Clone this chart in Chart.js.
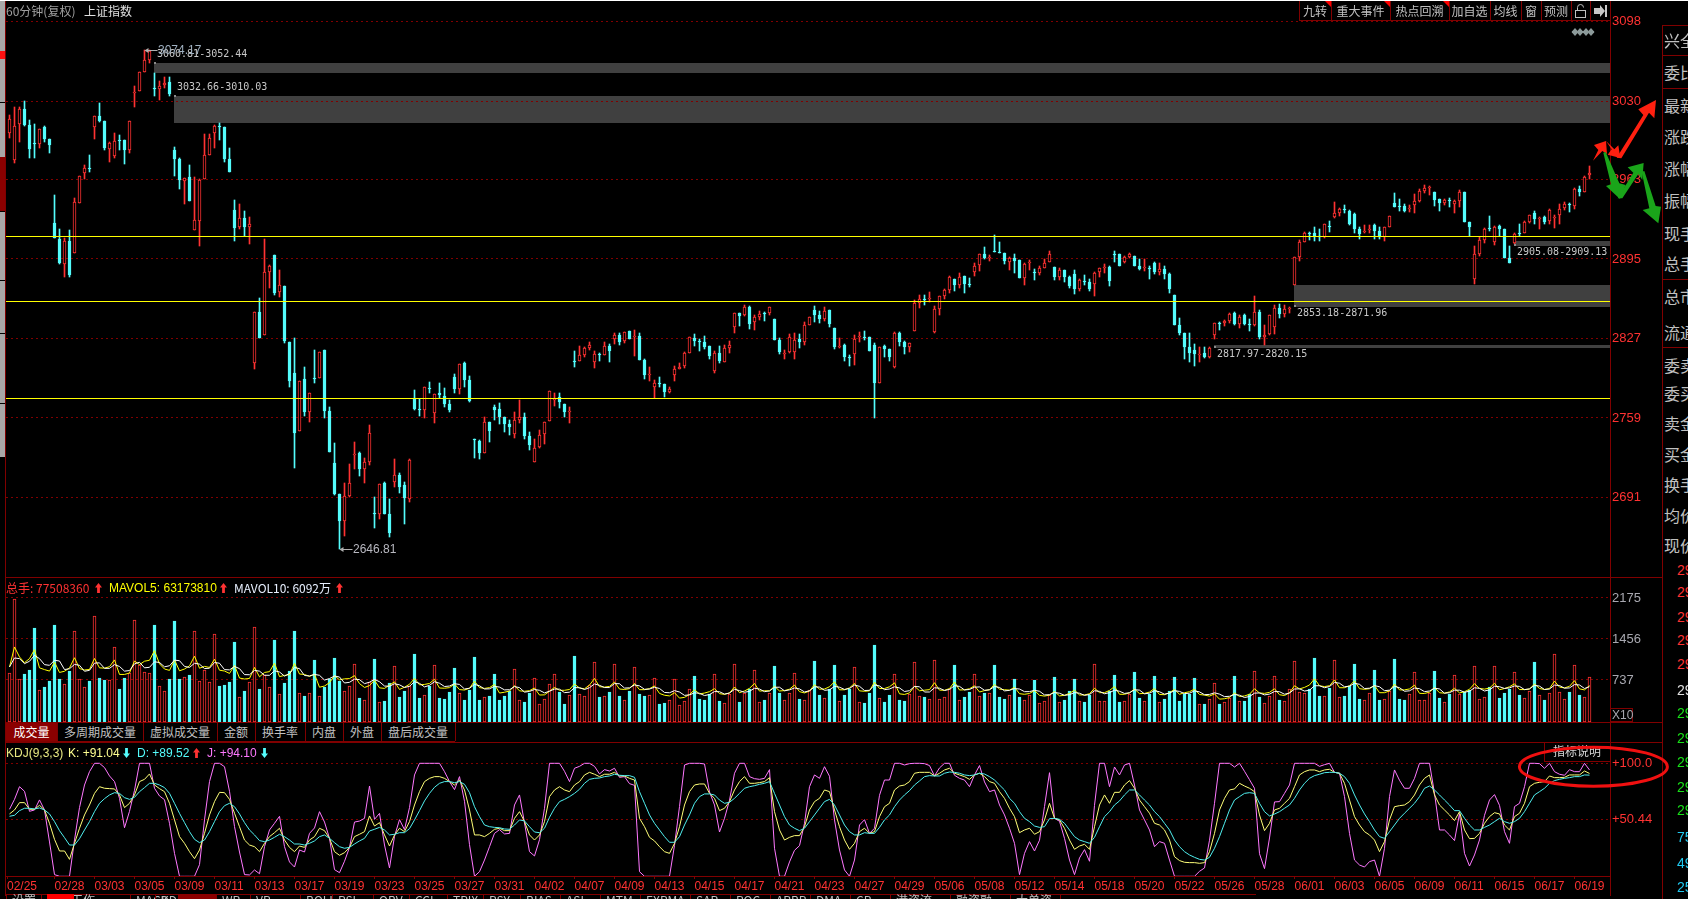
<!DOCTYPE html>
<html lang="zh"><head><meta charset="utf-8"><title>上证指数 60分钟</title>
<script src="https://cdn.jsdelivr.net/npm/chart.js@4"></script>
<style>
html,body{margin:0;padding:0;background:#000;width:1688px;height:899px;overflow:hidden}
canvas{position:absolute;left:0}
.t{position:absolute;white-space:nowrap;font:13px "Liberation Sans","Noto Sans CJK SC",sans-serif;line-height:16px;transform:translateY(-50%)}
</style></head><body>
<canvas id="cMain" width="1662" height="576" style="top:1px;width:1662px;height:576px"></canvas>
<canvas id="cVol" width="1662" height="145" style="top:577px;width:1662px;height:145px"></canvas>
<canvas id="cKdj" width="1662" height="154" style="top:742px;width:1662px;height:154px"></canvas>
<div id="ui"></div>
<svg width="1688" height="899" style="position:absolute;left:0;top:0;pointer-events:none;z-index:5">
<g transform="translate(1585,90) scale(.3333)">
<g fill="#ff2010">
<polygon points="24,212 40,180 27,165 63,153 66,192 52,183"/>
<polygon points="63,153 88,178 100,166 106,204 68,194 80,178"/>
<polygon points="95,203 175,75 160,58 213,30 208,85 192,68 109,205"/>
</g>
<g fill="#1aa51a">
<polygon points="55,188 62,186 103,280 122,285 105,327 63,288 78,283"/>
<polygon points="98,325 145,248 128,232 176,219 172,270 160,252 112,325"/>
<polygon points="170,245 178,243 212,348 228,350 220,400 173,360 193,355"/>
</g>
</g>
<ellipse cx="1593.4" cy="766.7" rx="74" ry="19.5" fill="none" stroke="#f01010" stroke-width="3"/>
</svg>
<script>
/* ---------- candlesticks (60-minute bars) ---------- */
const opens=[3003.1,2979.7,3010.2,3023.3,3009.7,2994.0,2993.4,3008.2,2997.4,2925.8,
2912.1,2890.7,2910.4,2900.4,2943.2,2968.9,2972.9,3008.2,3017.0,3013.1,
2989.4,2983.1,2997.0,2996.8,2988.3,3037.3,3039.0,3055.3,3065.3,3041.3,
3040.4,3044.2,3046.4,2988.3,2980.6,2962.0,2965.2,2919.8,2927.8,2963.4,
2983.7,3002.8,3008.9,3007.9,2980.6,2936.9,2922.7,2930.1,2922.7,2805.7,
2849.4,2830.2,2884.1,2898.4,2867.0,2871.9,2823.7,2797.4,2748.0,2792.3,
2764.3,2793.2,2793.4,2817.1,2764.9,2720.4,2693.9,2671.0,2692.4,2727.7,
2729.0,2715.3,2721.5,2677.6,2676.8,2703.3,2676.8,2704.4,2710.1,2701.6,
2689.9,2775.8,2766.8,2766.0,2784.2,2763.4,2780.0,2777.5,2770.9,2793.7,
2783.5,2806.0,2791.4,2740.7,2739.0,2729.2,2755.5,2768.3,2766.6,2759.8,
2753.8,2745.0,2757.2,2759.8,2743.5,2721.5,2734.4,2745.0,2756.4,2775.2,
2776.6,
2770.9,2764.7,2807.3,2807.7,2812.8,2818.8,2806.8,2813.6,2812.8,2820.5,
2826.5,2829.9,2824.8,2833.4,2828.9,2829.1,2808.5,2796.4,2785.4,2788.8,
2788.0,2780.9,2795.7,2800.9,2803.4,2814.8,2827.4,2824.9,2823.7,2820.5,
2798.9,2814.5,2807.1,2818.8,2837.0,2848.8,2847.0,2853.9,2841.1,2845.3,
2848.9,2848.8,2843.4,2825.7,2814.5,2815.4,2815.4,2826.3,2824.2,2838.2,
2851.3,2846.8,2843.6,2851.3,2835.9,2820.3,2821.4,2810.8,2813.7,2828.3,
2828.5,2828.2,2821.4,2788.9,2820.5,2818.0,2802.6,2831.6,2824.0,2819.7,
2833.3,2857.3,2860.9,2860.8,2832.5,2852.2,2863.3,2868.4,2877.9,2872.7,
2880.4,2873.5,2883.8,2889.8,2899.0,2896.5,2902.0,2901.2,2900.1,2892.4,
2895.8,2894.1,2878.7,2891.9,2884.1,2883.0,2887.3,2892.4,2888.1,2879.6,
2885.6,2879.6,2882.1,2869.3,2876.3,2875.3,2873.6,2883.8,2887.9,2888.1,
2899.5,2899.3,2892.1,2897.0,2897.5,2889.2,2887.3,2886.9,2891.3,2883.6,
2886.7,2882.1,2864.2,2838.8,2831.6,2819.4,2817.1,2813.5,2814.8,2811.4,
2829.7,2840.1,2839.9,2842.2,2848.8,2839.4,2846.8,2839.6,2838.5,2849.6,
2828.5,2830.5,2837.0,2852.8,2847.9,2852.8,2872.7,2896.7,2909.8,2917.4,
2917.0,2914.3,2913.5,2923.4,2931.2,2934.1,2937.7,2936.3,2933.5,2920.4,
2918.9,2920.1,2924.1,2919.2,2913.5,2922.6,2942.6,2940.5,2940.3,2938.2,
2941.2,2944.3,2953.2,2956.2,2952.3,2946.1,2942.7,2945.7,2941.8,2944.6,
2952.3,2926.6,2878.1,2899.3,2911.2,2921.3,2909.8,2923.0,2920.6,2895.6,
2908.4,2917.0,2917.5,2926.4,2934.1,2929.5,2930.7,2927.2,2930.9,2932.9,
2938.4,2942.2,2940.3,2954.9,2952.6,2966.6];
const closes=[3014.5,3008.8,3023.1,3009.7,2989.1,2993.6,3005.9,2997.7,2992.5,2913.2,
2891.3,2910.4,2881.3,2943.5,2966.3,2973.1,2972.4,3017.0,3013.1,2989.7,
2994.2,2996.0,2996.4,2988.3,3013.1,3037.9,3055.0,3065.3,3073.0,3041.0,
3042.7,3045.3,3035.9,2980.6,2962.6,2964.0,2944.6,2928.4,2962.6,2983.7,
2998.8,3008.8,3008.5,2980.3,2969.4,2921.5,2930.1,2922.1,2924.7,2849.4,
2827.6,2883.6,2889.0,2865.6,2872.7,2824.8,2790.6,2746.3,2790.6,2764.3,
2780.0,2792.8,2815.4,2765.2,2730.1,2693.9,2671.0,2692.2,2703.0,2728.1,
2715.3,2721.0,2745.8,2677.2,2702.2,2676.8,2660.8,2710.1,2700.1,2690.7,
2723.0,2766.6,2766.4,2785.2,2783.8,2779.2,2778.5,2771.2,2765.8,2783.7,
2804.9,2791.7,2773.7,2740.2,2729.2,2755.5,2748.1,2766.0,2759.8,2754.0,
2751.5,2757.2,2759.5,2743.8,2736.1,2733.0,2744.1,2755.2,2781.8,2775.6,
2772.6,
2764.0,2765.1,2807.0,2812.6,2818.8,2821.4,2813.7,2813.2,2820.3,2816.2,
2829.7,2823.7,2832.2,2826.3,2829.3,2808.5,2795.7,2796.9,2788.9,2788.4,
2781.2,2783.5,2800.6,2802.3,2814.5,2828.0,2824.8,2824.5,2819.9,2811.9,
2814.5,2807.4,2818.8,2821.4,2848.5,2846.5,2853.6,2839.4,2845.3,2847.7,
2848.5,2853.6,2825.7,2815.1,2814.9,2828.0,2825.7,2824.0,2838.2,2845.1,
2847.0,2843.6,2850.5,2839.4,2819.7,2820.7,2811.1,2810.4,2826.5,2828.7,
2828.0,2815.9,2788.9,2819.7,2818.0,2811.1,2831.6,2824.0,2819.7,2822.8,
2857.3,2860.7,2860.5,2861.2,2852.2,2863.0,2868.4,2879.3,2872.7,2879.3,
2873.6,2873.1,2889.0,2899.0,2895.8,2896.9,2901.4,2900.6,2893.3,2895.8,
2893.3,2878.7,2890.7,2892.3,2883.7,2887.3,2891.3,2899.3,2879.6,2885.6,
2879.6,2871.9,2869.3,2877.0,2875.9,2869.3,2883.0,2887.0,2888.3,2876.2,
2899.1,2889.0,2896.4,2899.5,2889.2,2886.2,2887.7,2886.5,2883.6,2886.7,
2882.1,2869.3,2838.8,2831.9,2819.4,2814.8,2813.7,2813.9,2810.9,2818.8,
2839.9,2839.7,2842.2,2848.2,2839.4,2845.6,2839.4,2839.2,2849.6,2828.0,
2829.9,2847.0,2853.3,2847.9,2852.2,2853.2,2896.7,2909.3,2917.2,2917.0,
2914.1,2913.9,2924.9,2923.0,2934.1,2937.5,2937.3,2924.9,2920.4,2916.4,
2919.3,2920.5,2918.9,2913.5,2922.1,2931.8,2939.7,2940.0,2936.3,2938.6,
2944.3,2953.4,2955.5,2956.6,2945.5,2943.2,2945.5,2945.3,2944.3,2952.6,
2926.6,2922.4,2899.0,2911.2,2920.6,2921.0,2922.6,2920.6,2895.6,2891.8,
2916.4,2916.6,2926.4,2932.4,2929.5,2929.9,2926.9,2936.9,2931.3,2937.5,
2941.8,2941.8,2954.9,2952.1,2965.4,2968.3];
const highs=[3018.2,3024.8,3024.8,3030.2,3013.9,3010.5,3005.9,3008.8,2997.4,2949.8,
2920.7,2912.7,2919.8,2946.9,2966.3,2975.4,2984.0,3017.3,3028.5,3013.1,
2995.4,3002.5,3001.1,2996.8,3013.1,3043.0,3055.3,3074.17,3073.5,3054.4,
3047.3,3050.4,3050.4,2990.8,2981.1,2964.0,2975.4,2965.2,2963.2,3001.7,
3001.7,3009.6,3011.1,3008.2,2989.7,2945.5,2942.1,2936.1,2930.9,2849.4,
2861.6,2912.1,2889.8,2898.4,2885.6,2871.9,2823.7,2827.4,2790.6,2802.6,
2780.0,2817.1,2815.4,2817.1,2768.1,2737.5,2693.9,2703.6,2719.6,2738.1,
2729.6,2724.7,2752.7,2691.3,2702.2,2704.1,2689.6,2723.8,2711.9,2703.9,
2723.6,2782.9,2775.2,2785.4,2789.7,2779.5,2788.9,2784.6,2774.3,2796.6,
2804.9,2806.8,2794.6,2740.7,2740.1,2759.5,2755.5,2770.0,2771.5,2759.8,
2756.9,2764.1,2774.3,2762.9,2746.9,2741.2,2748.6,2755.5,2781.8,2780.6,
2780.6,
2770.9,2768.6,2816.2,2820.5,2819.9,2823.7,2816.0,2814.5,2823.7,2822.0,
2831.4,2831.4,2832.5,2833.4,2834.2,2831.6,2809.1,2802.6,2791.4,2794.0,
2788.0,2785.2,2803.2,2806.0,2815.4,2828.0,2830.8,2826.8,2829.1,2820.5,
2816.2,2820.5,2821.1,2824.8,2848.8,2848.8,2855.3,2854.5,2846.8,2850.5,
2849.6,2853.6,2843.4,2827.1,2817.1,2830.5,2831.4,2830.5,2841.1,2845.1,
2854.5,2850.7,2853.6,2851.3,2835.9,2827.1,2822.2,2812.8,2830.0,2832.5,
2833.4,2828.2,2822.8,2819.7,2821.4,2818.0,2832.2,2832.5,2824.8,2823.1,
2859.9,2864.2,2864.2,2866.7,2854.8,2863.0,2869.6,2880.2,2877.9,2883.0,
2880.4,2878.5,2891.3,2899.0,2905.2,2898.4,2915.5,2909.5,2900.1,2896.4,
2899.3,2894.1,2891.3,2894.1,2886.4,2888.7,2894.7,2901.8,2888.1,2887.3,
2885.6,2880.2,2885.6,2877.9,2881.3,2877.9,2883.8,2887.3,2890.4,2889.0,
2901.8,2899.3,2897.5,2899.9,2897.5,2894.7,2894.7,2889.2,2892.4,2891.8,
2889.2,2882.7,2864.2,2844.8,2831.9,2831.4,2822.0,2819.4,2819.4,2819.4,
2840.5,2841.3,2842.8,2849.0,2849.6,2847.3,2847.9,2843.4,2863.3,2851.3,
2838.5,2847.0,2855.6,2856.5,2855.6,2854.2,2896.7,2911.2,2918.1,2918.3,
2922.1,2920.4,2924.9,2927.7,2943.7,2938.3,2941.2,2936.9,2934.6,2922.1,
2924.1,2924.1,2924.9,2922.1,2922.6,2931.8,2951.7,2946.3,2942.0,2941.2,
2950.6,2954.9,2958.0,2957.4,2952.3,2946.3,2946.3,2946.9,2945.5,2954.0,
2952.3,2926.6,2906.1,2913.5,2921.5,2931.8,2923.2,2923.8,2920.6,2906.1,
2917.5,2924.9,2927.7,2932.6,2935.8,2931.2,2931.8,2937.5,2932.6,2942.0,
2944.0,2942.6,2955.5,2957.4,2966.0,2974.5];
const lows=[2998.2,2976.9,2995.4,3008.8,2981.7,2981.7,2990.3,2995.4,2986.0,2912.7,
2890.7,2879.9,2879.9,2900.4,2943.2,2963.4,2969.7,2997.7,3012.5,2988.3,
2978.3,2981.7,2988.3,2976.3,2986.0,3025.3,3039.0,3055.3,3063.0,3034.5,
3031.3,3041.0,3034.7,2966.3,2955.2,2942.1,2944.6,2919.8,2906.4,2963.4,
2983.7,2990.3,2996.8,2978.0,2969.4,2910.7,2920.9,2914.7,2907.8,2800.8,
2827.6,2830.2,2870.2,2864.4,2862.7,2823.4,2785.7,2716.4,2748.0,2760.9,
2755.8,2789.1,2793.4,2759.2,2730.1,2693.0,2646.81,2658.2,2691.0,2715.3,
2709.5,2703.6,2718.7,2665.0,2672.7,2676.8,2657.4,2700.1,2695.0,2668.5,
2687.3,2765.8,2760.9,2759.2,2780.6,2754.9,2776.3,2768.6,2764.3,2780.0,
2779.5,2785.2,2772.9,2725.0,2723.8,2729.2,2738.6,2757.2,2753.8,2746.9,
2744.6,2742.1,2754.5,2741.2,2731.5,2721.0,2733.5,2736.7,2756.4,2769.2,
2767.7,
2759.8,2754.9,2802.8,2807.4,2810.9,2817.1,2802.0,2807.7,2812.8,2806.8,
2822.2,2821.4,2823.1,2826.3,2812.0,2808.5,2792.3,2790.6,2775.8,2785.4,
2777.1,2780.0,2790.6,2800.9,2801.4,2814.8,2820.5,2816.2,2818.2,2809.4,
2797.4,2806.2,2806.8,2814.5,2831.7,2837.6,2846.2,2835.3,2834.2,2842.8,
2841.9,2847.0,2825.7,2813.9,2809.4,2814.8,2809.4,2818.8,2821.6,2838.2,
2841.1,2840.2,2842.2,2836.8,2818.0,2818.8,2807.7,2803.4,2804.3,2824.0,
2825.7,2815.9,2758.9,2788.9,2811.1,2807.4,2802.0,2820.5,2813.7,2815.4,
2833.3,2853.0,2855.6,2858.2,2831.7,2847.0,2860.7,2865.9,2867.6,2870.2,
2865.9,2871.0,2880.4,2884.7,2895.0,2893.3,2901.0,2900.1,2890.7,2885.6,
2883.0,2878.7,2872.7,2885.6,2877.0,2881.3,2887.3,2892.4,2877.0,2877.0,
2875.3,2870.2,2865.0,2867.6,2872.7,2867.6,2863.3,2879.6,2883.0,2871.9,
2892.4,2889.0,2891.3,2895.6,2889.2,2885.6,2885.0,2877.6,2882.1,2881.5,
2878.1,2865.6,2838.8,2829.7,2809.6,2806.6,2803.7,2806.6,2810.5,2810.5,
2826.5,2834.2,2837.6,2839.9,2838.5,2835.7,2838.5,2833.4,2837.6,2826.5,
2821.4,2829.9,2830.5,2844.5,2845.1,2849.0,2872.7,2893.5,2909.8,2911.2,
2910.6,2910.6,2912.7,2918.3,2929.8,2931.8,2934.6,2924.1,2917.5,2912.3,
2917.5,2917.0,2912.3,2912.3,2910.6,2922.6,2939.2,2936.3,2935.2,2935.2,
2934.1,2944.0,2951.7,2949.7,2940.6,2936.0,2941.2,2939.7,2934.1,2939.7,
2926.6,2914.6,2873.6,2897.8,2908.4,2919.2,2906.9,2914.7,2895.6,2891.8,
2907.8,2914.6,2917.0,2926.0,2924.9,2920.4,2924.9,2924.9,2921.9,2924.9,
2936.9,2935.5,2937.8,2949.1,2952.3,2963.2];
/* ---------- volume (axis units, x10) ---------- */
const volumes=[866,2165,761,848,918,1656,567,608,714,1708,749,673,901,1603,761,620,725,1860,778,743,
743,1322,585,778,866,1796,1006,883,866,1708,638,550,761,1778,761,796,831,1603,725,918,
708,1550,638,655,708,1410,445,550,708,1673,585,831,620,1445,497,690,901,1603,515,462,
515,1094,462,620,761,1129,725,550,638,1024,427,392,708,1112,357,374,690,989,445,550,
638,1199,427,480,638,1006,427,410,532,954,515,392,567,1147,392,445,462,848,392,462,
550,936,392,357,515,778,322,410,673,848,527,
322,480,1152,497,462,644,1059,433,462,521,1024,450,392,538,971,486,450,480,778,310,
328,392,761,304,374,585,801,398,380,497,848,363,339,497,1024,345,515,573,918,357,
380,503,977,503,392,503,866,398,392,556,1065,468,415,585,995,363,468,585,971,345,
328,503,1346,415,345,480,848,380,363,486,1059,450,433,410,1094,410,433,585,995,380,
433,521,848,450,503,503,995,433,398,468,749,433,380,468,731,328,363,468,784,345,
380,538,749,363,345,480,1024,363,363,538,819,345,
363,491,872,415,363,486,801,345,398,538,784,363,486,486,766,310,310,398,679,310,
345,415,801,363,363,486,901,433,328,450,801,380,363,573,1065,521,515,573,1117,450,
450,591,1082,433,450,626,1012,398,380,503,907,380,398,538,1100,398,380,486,872,380,
380,503,889,415,345,486,819,486,521,556,977,398,433,608,977,415,503,585,872,468,
415,538,1047,468,380,503,1188,521,398,521,995,468,433,784];
const mavol5=[965,1316,1140,1040,1112,1270,950,919,893,1051,869,890,949,1127,937,912,922,1114,949,945,
970,1089,834,834,859,1069,1006,1066,1083,1252,1020,929,905,1087,898,929,985,1154,943,975,
957,1101,908,894,852,992,771,754,764,957,792,869,883,1031,796,817,831,1027,841,834,
799,838,610,631,690,813,739,757,761,813,673,606,638,733,599,589,648,704,571,610,
662,764,652,659,676,750,596,592,603,666,568,561,592,715,603,589,603,659,508,522,
543,638,546,539,550,596,473,476,540,606,556,
556,570,666,596,583,647,763,619,612,624,700,578,570,585,675,567,567,585,633,501,
469,458,514,419,432,483,565,492,508,532,585,497,485,509,614,514,544,591,675,542,
549,546,627,544,551,576,648,532,510,543,655,576,579,618,706,565,565,599,676,546,
539,546,699,587,587,618,687,494,483,511,627,548,558,568,689,559,556,586,703,561,
565,583,635,526,551,565,660,577,566,559,609,496,486,500,552,468,454,472,535,458,
468,503,559,475,475,495,592,515,515,554,621,486,
486,511,578,497,501,525,587,482,479,514,573,486,514,531,577,482,472,454,
493,401,408,429,510,447,457,486,583,509,502,520,583,478,464,513,636,580,607,649,
758,635,621,636,738,601,601,636,721,584,573,584,640,514,514,545,665,563,563,580,
647,503,500,524,605,513,506,528,591,510,531,574,672,588,577,594,679,566,587,618,
670,569,569,576,668,587,570,587,717,612,598,626,725,581,563,640];
const mavol10=[965,1123,1111,1024,1065,1170,1111,1006,994,1082,1070,920,934,1010,994,890,906,1032,1038,941,
941,1006,974,892,902,1020,1048,950,959,1056,1044,968,986,1085,1075,975,957,1030,1015,937,
943,1043,1031,919,914,975,936,831,829,905,892,820,819,898,877,805,850,955,936,815,
808,835,819,736,762,806,789,684,696,752,743,673,698,747,706,631,627,671,652,605,
626,706,678,615,643,706,680,622,631,671,659,579,592,659,635,579,582,626,612,563,
566,621,603,524,536,570,556,511,540,578,576,
515,523,603,601,570,602,667,643,604,604,674,671,595,599,650,634,573,578,609,588,
518,513,550,526,467,476,512,503,464,482,534,531,489,509,573,550,521,538,592,578,
532,545,609,610,547,563,597,580,527,547,616,612,556,564,625,610,571,589,647,626,
552,556,649,632,567,579,617,597,535,549,623,618,526,526,600,593,552,572,636,625,
562,570,611,615,556,565,622,606,546,555,587,578,532,533,556,539,475,479,518,505,
468,479,516,505,467,482,548,537,495,515,558,539,
501,513,566,559,494,506,549,530,488,508,549,537,498,505,546,528,479,484,
512,489,445,451,482,470,429,447,506,510,475,489,535,531,487,508,578,582,543,557,
636,636,601,622,694,680,618,629,679,661,587,593,638,618,549,559,625,602,539,547,
596,584,532,544,593,580,505,514,558,558,522,540,600,590,544,563,627,619,588,598,
632,624,568,582,643,629,570,578,647,640,593,598,656,649,588,619];
/* ---------- KDJ(9,3,3) ---------- */
const kdjK=[55.2,58.7,65.2,65.2,59.3,59.3,62.8,58.7,46.9,32.7,22.4,22.4,15,29.2,42.5,54.3,63.1,73.4,79.3,77.9,
77.6,77.3,72,60.8,64.6,72,83.8,85.8,90.6,80.8,77.6,74.9,64.6,49.9,35.1,29.2,21.8,15.6,23.3,38,
54.3,66.1,74.3,74,68.1,55.8,43.9,32.1,27.7,26.2,21.8,29.2,35.1,38.6,42.5,32.1,25.6,21.8,26.8,25.6,
32.1,35.1,42.5,40.4,33.6,21.8,18.6,20.9,25.6,35.1,37.2,39.5,53.4,44.5,47.5,36.6,26.8,36.6,42.5,39.5,
48.4,63.1,74.9,83.8,86.7,88.2,88.2,86.7,83.8,80.8,85.2,76.4,58.7,36.6,36.6,35.1,38,41.6,42.5,40.4,
40.4,51.3,57.2,48.4,36.6,32.1,36.6,48.4,70.5,76.4,79.3,
76.4,74.9,80.8,83.8,89.7,92,90.3,88.2,90.3,90.3,92,88.8,88.8,86.7,85.2,51.3,43.9,34.5,31.3,26.2,
21.8,20.3,29.2,43.9,63.1,74.9,80.8,81.7,81.7,73.4,69,58.1,60.2,66.1,76.4,83.8,88.2,82.3,82.3,82.9,
83.8,87.3,57.2,41,32.1,34.5,36,36,43.9,58.7,66.1,69,76.4,74.9,58.7,43.9,32.1,23.9,29.2,39.5,
42.5,38,39.5,52.8,61.6,64.6,76.4,79.9,80.8,83.8,91.2,92,92,92,88.8,91.2,94.1,95.6,91.2,89.7,
88.2,85.8,89.7,91.2,88.2,83.8,82.3,74.9,69,60.2,52.8,38.6,41,42.5,37.2,39.5,49.9,64.6,51.3,49.9,
42.5,32.1,23.9,26.8,28.3,23.9,43.9,63.1,72,64.6,74.3,74.3,
80.8,84.7,77.9,67.5,61.6,55.8,46.9,45.4,41,32.1,17.4,13.9,12.4,12.1,12.1,11.5,12.1,21.8,
38,58.7,69,76.4,77.3,82.3,79.9,77.9,74.9,54.3,40.4,46.9,58.7,60.2,64.6,69,79.3,89.7,92.6,94.1,
94.1,92.6,94.1,94.7,92,91.2,82.3,67.5,52.8,45.4,39.5,36.6,32.1,21.8,30.7,49.9,61.6,62.5,63.1,66.1,
72,80.8,86.7,89.7,72,63.1,58.7,54.3,49.3,57.2,41,33.3,33.6,38,46.9,52.8,56.3,55.2,45.4,41,
52.8,55.8,64.6,79.3,82.3,83.2,83.8,88.8,87.3,87.3,87.6,89.7,89.7,89.7,93.2,91.04];
const kdjD=[53.1,54,58.1,60.2,60.2,59.6,60.5,58.7,55.2,48.4,40.4,34.2,27.7,27.7,33.3,41,48.4,57.2,64.6,68.7,
72,74,73.4,69.6,68.1,69.9,74.9,78.5,82.3,82.3,80.8,78.5,73.4,64.6,55.7,47.5,39.5,32.7,29.8,32.1,
39.5,48.4,57.2,62.5,64.6,61.6,55.2,47.5,41,36.6,31.6,30.7,32.1,34.5,37.2,35.1,32.1,28.6,28.6,27.7,
29.2,31.3,35.1,36.6,33.6,29.8,26.2,24.8,25.6,28.6,31.3,33.6,40.1,41.6,43.3,41,36.6,37.2,38.6,38.6,
42.2,49.9,58.1,66.7,73.4,78.8,82.3,83.8,83.8,82.9,83.8,81.4,74,61.6,52.8,45.4,43.9,43.3,43,41.9,
41.6,45.4,49.9,49,43.9,39.2,38.6,42.5,52.2,60.2,66.1,
68.1,70.5,73.4,77,82.3,85.8,86.7,87,88.2,88.8,90.3,89.4,89.1,89.1,87.6,74.9,64.6,54.3,46.9,41,
35.1,30.1,30.1,35.1,45.4,54.3,64.6,70.5,72.9,72.9,72,67.5,64.6,65.5,69,73.4,77.9,79.3,80.2,81.4,
82.3,83.8,73.4,63.1,52.8,45.4,42.5,40.4,42.5,48.4,54.3,60.2,66.1,68.1,63.1,54.3,45.4,39.5,36.6,36.6,
38.6,38,38,43.3,49.9,54.3,61.6,67.5,72,75.8,80.8,84.4,88.2,89.1,88.8,88.8,91.2,92.3,92,91.2,
89.7,89.1,89.7,91.2,90.5,88.2,85.2,80.8,76.4,69,64.6,57.2,51.3,48.4,44.5,43.3,43.9,51,51.3,50.4,
46.9,41,35.1,32.1,30.7,29.2,34.5,43.9,52.8,57.2,63.1,66.7,
72,76.4,76.4,72,67.5,63.1,57.2,52.8,46.9,41,32.1,26.2,21.8,18.9,16.8,15,14.4,16.8,
24.8,35.1,46.9,58.7,67.5,70.5,73.4,74,73.4,64.6,57.2,53.4,55.1,57.2,60.2,63.1,69,76.4,82.3,86.7,
89.1,90.3,91.7,92,92,91.2,88.2,82.3,72,63.1,55.2,48.4,41,35.1,33.6,39.5,45.4,51.3,55.8,60.2,
64.6,70.5,77.9,79.9,76.4,72,67.5,63.1,58.1,58.1,51.3,45.4,41,41,43.3,45.4,48.4,51.3,48.4,46.9,
48.4,51.3,57.2,64.6,72,74.9,77.9,82.3,84.7,85.8,86.7,87.3,88.2,88.2,89.7,89.52];
const kdjJ=[59.3,68.1,79.3,75.2,57.5,58.7,67.6,58.7,30.4,1.5,0,0,0,32.2,60.8,80.8,92.6,100,100,96.2,
88.8,83.8,69,43,57.5,76.1,100,100,100,77.9,71.1,67.8,46.9,20.3,0,0,0,0,10.3,49.9,
83.8,100,100,97,75.2,44,21.5,1.5,1.2,5.6,2.3,26.2,41,46.9,53.1,26.2,12.7,8.2,23.3,21.5,
38,42.8,57.2,48,33.6,5.9,3.2,13.3,25.6,48,48.9,51.3,79.9,50.4,55.7,27.7,7.4,35.4,50.1,41.3,
60.8,89.7,100,100,100,100,100,92.6,83.8,76.7,88.2,66.4,28,0,4.1,14.4,26.2,38,41.3,37.5,
38,63.1,72,47.2,21.8,18,32.4,60.2,100,100,100,
92.9,83.8,95.6,97.3,100,100,97.3,90.6,94.4,93.2,95.6,87.6,88.2,82,80.5,4.1,0,0,0,0,
0,0,27.4,61.7,98.5,100,100,100,99.4,74.6,63.1,39.2,51.3,67.3,91.2,100,100,88.2,86.4,85.8,
86.7,94.4,24.8,0,0,12.7,23,27.1,46.9,79.3,89.7,86.7,97,88.5,49.9,23.3,5.6,0,14.4,45.4,
50.1,38,42.5,71.7,85.2,85.2,100,100,98.5,99.7,100,100,99.7,98,88.8,95.9,100,100,89.4,86.7,
85.2,79.3,89.7,98,83.5,74.9,76.4,63.1,54.3,42.5,29.2,1.5,20.3,30.7,22.4,31.9,61.7,91.7,51.3,48.7,
33.6,14.4,1.5,16.2,23.6,13.3,62.8,100,100,79.3,96.7,89.7,
98.5,100,80.8,58.7,49.9,41,26.2,30.7,29.2,14.4,0,0,0,0,0,4.4,7.4,31.9,
64.6,100,100,100,96.7,100,92.9,85.5,77.9,20,6.8,33.9,65.8,66.1,73.4,80.8,100,100,100,100,
100,97.3,98.8,100,92,91.2,70.5,38,14.4,10,8.2,13,14.4,0,24.8,70.5,94.1,85,77.9,77.9,
86.7,100,100,100,73.4,41,41,36.6,31.6,55.4,20.3,9.1,18.9,32.2,54,67.5,72.3,62.8,39.5,29.2,
61.7,64.6,79.3,100,100,99.7,95.6,100,92.6,90.3,89.4,94.4,92.6,92.6,100,94.10];
/* ---------- axes ---------- */
const priceTicks=[3098,3030,2963,2895,2827,2759,2691];
const volTicks=[2175,1456,737];
const kdjTicks=[100,50.44];
const kdjTickLabels=["+100.0","+50.44"];
const dateLabels=["02/25","02/28","03/03","03/05","03/09","03/11","03/13","03/17","03/19","03/23","03/25","03/27","03/31","04/02","04/07","04/09","04/13","04/15","04/17","04/21","04/23","04/27","04/29","05/06","05/08","05/12","05/14","05/18","05/20","05/22","05/26","05/28","06/01","06/03","06/05","06/09","06/11","06/15","06/17","06/19"];
const dateBarIndex=[-0.5,9,17,25,33,41,49,57,65,73,81,89,97,105,113,121,129,137,145,153,161,169,177,185,193,201,209,217,225,233,241,249,257,265,273,281,289,297,305,313];
const levelLines=[2914.4,2858.8,2775.8];
/* ---------- price gaps (start bar, band edges, label) ---------- */
const gapStart=[29,33,257,241,301];
const gapUpper=[3062.7,3034.4,2872.7,2821.4,2910.4];
const gapLower=[3054.1,3011.3,2854.2,2818.8,2906.1];
const gapLabels=["3060.81-3052.44","3032.66-3010.03","2853.18-2871.96","2817.97-2820.15","2905.08-2909.13"];
const gapLabelBelow=[false,false,true,true,true];
const extremeBars=[27,66];
const extremeValues=[3074.17,2646.81];
const extremeLabels=["3074.17","2646.81"];

const RED='#ff3232',CYAN='#54fcfc',DARK='#800000',GRAY='#a8a8b0',BAND='#404040';
const FONT='"Liberation Sans",sans-serif';
const pts=a=>a.map((v,i)=>({x:i,y:v}));
const isUp=i=>closes[i]>=opens[i];

const crisp={id:'crisp',afterDatasetsUpdate(ch){
  ch.data.datasets.forEach((d,k)=>{ if(d.type!=='bar')return;
    ch.getDatasetMeta(k).data.forEach(el=>{
      let a=Math.round(el.y),b=Math.round(el.base);
      if(a===b)b=a+1;
      el.y=a;el.base=b;el.x=Math.floor(el.x)+.5;
    });
  });
}};
const gaps={id:'gaps',beforeDraw(ch){
  const {ctx,chartArea:A,scales:{x,y}}=ch;
  ctx.save();ctx.fillStyle=BAND;
  gapStart.forEach((s,k)=>{
    const px=Math.floor(x.getPixelForValue(s)),t=Math.round(y.getPixelForValue(gapUpper[k])),b=Math.round(y.getPixelForValue(gapLower[k]));
    ctx.fillRect(px,t,A.right-px,Math.max(b-t,2));
  });
  ctx.restore();
}};
const notes={id:'notes',afterDatasetsDraw(ch){
  const {ctx,chartArea:A,scales:{x,y}}=ch;
  ctx.save();
  ctx.strokeStyle='#ffff00';ctx.lineWidth=1;
  levelLines.forEach(v=>{const p=Math.round(y.getPixelForValue(v))+.5;ctx.beginPath();ctx.moveTo(A.left,p);ctx.lineTo(A.right,p);ctx.stroke();});
  ctx.textBaseline='middle';ctx.font='10px "DejaVu Sans Mono",monospace';
  gapStart.forEach((s,k)=>{
    const px=x.getPixelForValue(s),t=y.getPixelForValue(gapUpper[k]),b=y.getPixelForValue(gapLower[k]);
    const ty=gapLabelBelow[k]?b+6.5:t-9;
    ctx.fillStyle='#8a8a8a';
    if(gapLabelBelow[k])ctx.fillRect(Math.round(px)-1,Math.round(b)-2,2,2);else ctx.fillRect(Math.round(px)-1,Math.round(t)-1,2,2);
    ctx.fillStyle='#c8c8c8';
    ctx.fillText(gapLabels[k],px+2.5,ty);
  });
  ctx.font='12px '+FONT;
  extremeBars.forEach((b,k)=>{
    const px=x.getPixelForValue(b),py=Math.round(y.getPixelForValue(extremeValues[k]))+.5;
    ctx.strokeStyle=ctx.fillStyle='#b0b0b0';
    ctx.beginPath();ctx.moveTo(px+1,py);ctx.lineTo(px+13,py);ctx.stroke();
    ctx.beginPath();ctx.moveTo(px,py);ctx.lineTo(px+4,py-2.5);ctx.lineTo(px+4,py+2.5);ctx.closePath();ctx.fill();
    ctx.fillStyle=k===0?'#9fb0c0':'#b8b8c0';
    ctx.fillText(extremeLabels[k],px+13.5,py);
  });
  ctx.restore();
}};
const fixY=s=>{s.width=52;s.paddingTop=0;s.paddingBottom=0;};
function yAxis(min,max,ticks,color,label){return {
  type:'linear',position:'right',min,max,
  afterBuildTicks:s=>{s.ticks=ticks.map(v=>({value:v}));},
  afterFit:fixY,
  grid:{color:DARK,drawTicks:false,lineWidth:1},
  border:{display:true,color:DARK,width:1,dash:[2,3]},
  ticks:{color,padding:2,autoSkip:false,font:{family:FONT,size:13},callback:label||(v=>String(v))}
};}
const xHidden={type:'linear',min:-0.7,max:320.1,display:false,offset:false};
const base={animation:false,responsive:false,devicePixelRatio:1,maintainAspectRatio:false,
  layout:{padding:{left:6,right:0,top:0,bottom:0}},
  plugins:{legend:{display:false},tooltip:{enabled:false}},events:[]};

new Chart(document.getElementById('cMain'),{
  data:{datasets:[
    {type:'bar',label:'body',order:1,grouped:false,barThickness:3,borderWidth:1,borderSkipped:false,
     data:opens.map((o,i)=>({x:i,y:[o,closes[i]]})),
     backgroundColor:c=>isUp(c.dataIndex)?'#000':CYAN,borderColor:c=>isUp(c.dataIndex)?RED:CYAN},
    {type:'bar',label:'wick',order:2,grouped:false,barThickness:1,borderWidth:0,
     data:lows.map((l,i)=>({x:i,y:[l,highs[i]]})),
     backgroundColor:c=>isUp(c.dataIndex)?RED:CYAN}
  ]},
  options:{...base,scales:{x:xHidden,y:yAxis(2622.9,3115.7,priceTicks,RED)}},
  plugins:[crisp,gaps,notes]
});
new Chart(document.getElementById('cVol'),{
  data:{datasets:[
    {type:'line',label:'MAVOL10',order:0,data:pts(mavol10),borderColor:'#ffffff',borderWidth:1,pointRadius:0,tension:0},
    {type:'line',label:'MAVOL5',order:1,data:pts(mavol5),borderColor:'#ffff00',borderWidth:1,pointRadius:0,tension:0},
    {type:'bar',label:'总手',order:2,grouped:false,barThickness:3,borderWidth:1,borderSkipped:false,
     data:pts(volumes),backgroundColor:c=>isUp(c.dataIndex)?'#000':CYAN,borderColor:c=>isUp(c.dataIndex)?RED:CYAN}
  ]},
  options:{...base,scales:{x:xHidden,y:yAxis(0,2543,volTicks,GRAY)}},
  plugins:[crisp]
});
new Chart(document.getElementById('cKdj'),{
  data:{datasets:[
    {type:'line',label:'J',order:2,data:pts(kdjJ),borderColor:'#ff78ff',borderWidth:1,pointRadius:0,tension:0},
    {type:'line',label:'K',order:1,data:pts(kdjK),borderColor:'#ffff78',borderWidth:1,pointRadius:0,tension:0},
    {type:'line',label:'D',order:0,data:pts(kdjD),borderColor:'#50f0f0',borderWidth:1,pointRadius:0,tension:0}
  ]},
  options:{...base,scales:{
    x:{type:'linear',min:-0.7,max:320.1,offset:false,
       afterBuildTicks:s=>{s.ticks=dateBarIndex.map(v=>({value:v}));},
       afterFit:s=>{s.height=20;s.paddingLeft=0;s.paddingRight=0;},
       grid:{display:true,drawOnChartArea:false,drawTicks:true,tickLength:3,tickColor:DARK},
       border:{display:true,color:DARK},
       ticks:{color:RED,align:'start',maxRotation:0,autoSkip:false,padding:0,font:{family:FONT,size:12},
              callback:v=>dateLabels[dateBarIndex.indexOf(v)]}},
    y:yAxis(0.27,118.85,kdjTicks,RED,v=>kdjTickLabels[kdjTicks.indexOf(v)])
  }}
});

/* ---------- surrounding terminal UI ---------- */
const ui=document.getElementById('ui');
const CJK='"Noto Sans CJK SC","Liberation Sans",sans-serif';
function T(x,y,s,c,o={}){const e=document.createElement('div');e.className='t';e.textContent=s;
  e.style.cssText=`left:${x}px;top:${y}px;color:${c};font-size:${o.size||12}px;font-family:${o.fam||FONT}`+(o.w?`;width:${o.w}px;text-align:center`:'');
  ui.appendChild(e);return e;}
function R(x,y,w,h,c){const e=document.createElement('div');e.style.cssText=`position:absolute;left:${x}px;top:${y}px;width:${w}px;height:${h}px;background:${c}`;ui.appendChild(e);return e;}
function A(x,y,c,up){const e=R(x,y-5,7,10,c);e.style.clipPath=up?'polygon(50% 0,100% 45%,70% 45%,70% 100%,30% 100%,30% 45%,0 45%)':'polygon(30% 0,70% 0,70% 55%,100% 55%,50% 100%,0 55%,30% 55%)';}

R(0,0,1688,1,'#ffffff');
// left tool strip
[[1,50,'#a8a8a8'],[51,8,'#ff1010'],[59,43,'#a8a8a8'],[103,54,'#a8a8a8'],[157,54,'#8b0000'],[212,68,'#a8a8a8'],[281,52,'#a8a8a8'],[334,69,'#a8a8a8'],[404,53,'#a8a8a8']].forEach(a=>R(0,a[0],4.5,a[1],a[2]));
// frame lines
R(5,1,1,895,DARK);
R(5,577,1657,1,DARK);R(5,722,1657,1,DARK);R(5,742,1657,1,DARK);R(5,876,1605,1,DARK);
R(1662,25,1,874,DARK);
[25,55,88,279,347].forEach(y=>R(1662,y,26,1,DARK));
R(1610,1,1,895,DARK);
// title
T(6,11,'60分钟(复权)','#a0a0a0',{fam:CJK});
T(84,11,'上证指数','#e0e0e0',{fam:CJK});
// top-right toolbar
R(1299,20,311,1,DARK);
const btnEdges=[1299,1331,1390,1449,1490,1521,1541,1571,1590,1610];
const btnText=['九转','重大事件','热点回溯','加自选','均线','窗','预测','',''];
btnEdges.slice(0,-1).forEach((x,i)=>{R(x,1,1,20,DARK);
  if(btnText[i])T(x,11,btnText[i],'#c0c0c0',{fam:CJK,w:btnEdges[i+1]-x});
  if(i<3){const tri=R(btnEdges[i+1]-6,1,6,6,'#ff0000');tri.style.clipPath='polygon(0 0,100% 0,100% 100%)';}
});
const lock=R(1575,4,10,13,'transparent');lock.innerHTML='<svg width="11" height="14"><path d="M2.5 6V3.5a3 3 0 0 1 6 0" fill="none" stroke="#c0c0c0"/><rect x=".5" y="6.5" width="10" height="7" fill="none" stroke="#c0c0c0"/></svg>';
const end=R(1594,4,13,13,'transparent');end.innerHTML='<svg width="13" height="13"><polygon points="0,3 6,3 6,0 11,6 6,12 6,9 0,9" fill="#c8c8c8"/><rect x="11" y="0" width="2" height="12" fill="#c8c8c8"/></svg>';
const dots=R(1571,22,24,8,'transparent');dots.innerHTML='<svg width="24" height="8"><rect x="1" y="3" width="22" height="2" fill="#8c9a9a"/>'+[4,9,15,20].map(x=>`<polygon points="${x-3.5},4 ${x},0 ${x+3.5},4 ${x},8" fill="#8c9a9a"/>`).join('')+'</svg>';
// volume legend
T(6,588,'总手: 77508360',RED,{size:12,fam:CJK});
A(95,588,RED,true);
T(109,588,'MAVOL5: 63173810','#ffff00',{size:12});
A(220,588,RED,true);
T(234,588,'MAVOL10: 6092万','#e8f0ff',{size:12,fam:CJK});
A(336,588,RED,true);
const x10=R(1610,708,23,14,'transparent');x10.style.border='1px solid '+DARK;x10.style.boxSizing='border-box';
T(1612,715,'X10',GRAY,{size:12});
// tabs
const tabEdges=[6,57,143,217,255,305,343,381,455];
const tabText=['成交量','多周期成交量','虚拟成交量','金额','换手率','内盘','外盘','盘后成交量'];
R(6,741,449,1,DARK);
tabText.forEach((s,i)=>{const x=tabEdges[i],w=tabEdges[i+1]-x;
  if(i===0)R(x,723,w,18,'#8b0000');
  R(tabEdges[i+1],723,1,18,DARK);
  T(x,732,s,i===0?'#ffffff':'#c0c0c0',{fam:CJK,w});
});
// KDJ legend
T(6,753,'KDJ(9,3,3)','#e8e880',{size:12});
T(68,753,'K: +91.04','#ffff90',{size:12});
A(123,753,CYAN,false);
T(137,753,'D: +89.52',CYAN,{size:12});
A(193,753,RED,true);
T(207,753,'J: +94.10','#ff78ff',{size:12});
A(261,753,CYAN,false);
// indicator help
R(1544,742,1,19,DARK);R(1544,761,66,1,DARK);
T(1544,751,'指标说明','#d8d8d8',{fam:CJK,w:66});
// bottom tabs (cut by the window edge)
R(6,894,1250,1,DARK);
const botEdges=[6,41,130,155,178,216,250,300,332,373,409,447,483,520,560,600,640,690,730,770,810,850,890,950,1010,1060];
const botText=['设置','指标工作','MACD','KDJ','DMI','WR','VR','BOLL','RSI','OBV','CCI','TRIX','PSY','BIAS','ASI','MTM','EXPMA','SAR','ROC','ARBR','DMA','CR','港资流','融资融','大单资',''];
botEdges.forEach((x,i)=>{R(x,894,1,5,DARK);if(botText[i])T(x+6,900,botText[i],'#c0c0c0',{fam:CJK});});
R(178,894,38,5,'#8b0000');R(47,894,27,5,'#ff0000');
// right column
const sideLabels=['兴全','委比','最新','涨跌','涨幅','振幅','现手','总手','总市','流通','委卖','委买','卖金','买金','换手','均价','现价'];
const sideY=[40,72,105,136,168,200,233,263,296,332,365,393,423,454,484,515,545];
sideLabels.forEach((s,i)=>T(1664,sideY[i],s,'#c0c0c0',{size:16,fam:CJK}));
const sideNum=[[570,RED],[592,RED],[617,RED],[640,RED],[664,RED],[690,'#e0e0e0'],[713,'#18e018'],[738,'#18e018'],[762,'#18e018'],[787,'#18e018'],[810,'#18e018']];
sideNum.forEach(a=>T(1677,a[0],'29',a[1],{size:14}));
[[837,'75'],[863,'49'],[887,'25']].forEach(a=>T(1677,a[0],a[1],'#20c8f0',{size:14}));
</script>
</body></html>
